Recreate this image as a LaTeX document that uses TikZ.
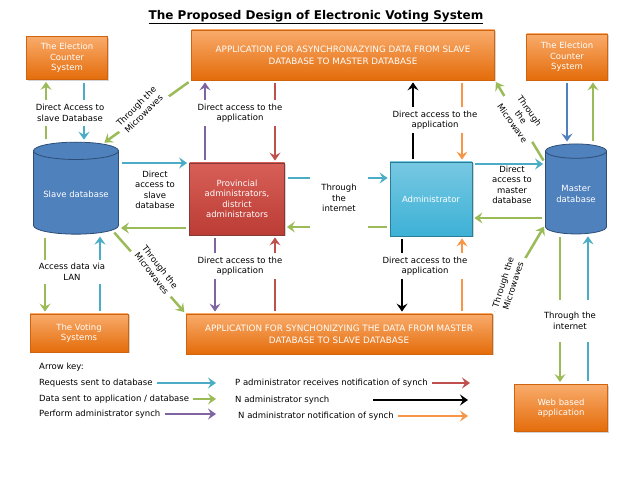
\documentclass[tikz,border=0pt]{standalone}
\usepackage{fontspec}
\setmainfont{DejaVu Sans}
\usetikzlibrary{arrows.meta,positioning,shapes.geometric,shadows}
\definecolor{BoxOrange}{HTML}{F79646}
\definecolor{BoxOrangeDark}{HTML}{E46C0A}
\definecolor{BoxBorder}{HTML}{D0640E}
\definecolor{DbBlue}{HTML}{4F81BD}
\definecolor{DbBorder}{HTML}{2C4D75}
\definecolor{ProvRed}{HTML}{D0433A}
\definecolor{AdmCyan}{HTML}{3DB1D6}
\definecolor{ArrCyan}{HTML}{4BACC6}
\definecolor{ArrGreen}{HTML}{9BBB59}
\definecolor{ArrPurple}{HTML}{8064A2}
\definecolor{ArrRed}{HTML}{C0504D}
\definecolor{ArrOrange}{HTML}{F79646}
\definecolor{ArrBlue}{HTML}{4F81BD}

\begin{document}
\begin{tikzpicture}[x=1pt,y=-1pt,
      every node/.style={font=\fontsize{8.5}{10.5}\selectfont,align=center},
      box/.style={draw=BoxBorder,thick,top color=BoxOrange!80!white,
        bottom color=BoxOrangeDark,text=white,inner sep=2pt,
        drop shadow={opacity=0.35,shadow xshift=1.5pt,shadow yshift=-1.5pt}},
      prov/.style={box,draw=ArrRed!70!black,top color=ProvRed!85!white,bottom color=ProvRed!90!black},
      adm/.style={box,draw=AdmCyan!70!black,top color=AdmCyan!70!white,bottom color=AdmCyan},
      db/.style={cylinder,shape border rotate=90,draw=DbBorder,thick,fill=DbBlue,
        text=white,inner sep=2pt},
      lbl/.style={fill=white,inner sep=4pt},
      key/.style={anchor=west,inner sep=1pt},
      arr/.style={-{Stealth[length=8pt,width=11pt,inset=3pt]},line width=2.5pt,
        shorten <=3pt,shorten >=2pt}]
      \useasboundingbox (0,0) rectangle (638,478);
      \node[font=\fontsize{12}{14}\selectfont\bfseries] (title) at (316,17)
        {\underline{The Proposed Design of Electronic Voting System}};
      % boxes
      \node[box,minimum width=81pt,minimum height=43pt] (lcount) at (67,58) {The Election\\Counter\\System};
      \node[box,minimum width=303pt,minimum height=50pt,font=\fontsize{8.8}{12}\selectfont] (topapp) at (343,55)
        {APPLICATION FOR ASYNCHRONAZYING DATA FROM SLAVE\\DATABASE TO MASTER DATABASE};
      \node[box,minimum width=81pt,minimum height=46pt] (rcount) at (567,57) {The Election\\Counter\\System};
      \node[db,minimum width=85pt,minimum height=92pt,aspect=0.25] (slave) at (76,194) {Slave database};
      \node[prov,minimum width=95pt,minimum height=72pt] (prov) at (237,199)
        {Provincial\\administrators,\\district\\administrators};
      \node[adm,minimum width=82pt,minimum height=74pt] (admin) at (431,199) {Administrator};
      \node[db,minimum width=61pt,minimum height=90pt,aspect=0.33] (master) at (576,194) {Master\\database};
      \node[box,minimum width=98pt,minimum height=38pt] (voting) at (79,333) {The Voting\\Systems};
      \node[box,minimum width=306pt,minimum height=40pt,font=\fontsize{8.8}{12}\selectfont] (botapp) at (339,334)
        {APPLICATION FOR SYNCHONIZYING THE DATA FROM MASTER\\DATABASE TO SLAVE DATABASE};
      \node[box,minimum width=93pt,minimum height=47pt] (web) at (561,408) {Web based\\application};
      % connectors
      \draw[arr,ArrGreen] (slave.north -| 46,0) -- (lcount.south -| 46,0);
      \draw[arr,ArrCyan] (lcount.south -| 84,0) -- (slave.north -| 84,0);
      \draw[arr,ArrGreen] (topapp.south west) -- (slave.62);
      \draw[arr,ArrPurple] (prov.north -| 205,0) -- (topapp.south -| 205,0);
      \draw[arr,ArrRed] (topapp.south -| 275,0) -- (prov.north -| 275,0);
      \draw[arr,black] (admin.north -| 413,0) -- (topapp.south -| 413,0);
      \draw[arr,ArrOrange] (topapp.south -| 462,0) -- (admin.north -| 462,0);
      \draw[arr,ArrGreen] (master.north west) -- (topapp.south east);
      \draw[arr,ArrBlue] (rcount.south -| 567,0) -- (master.north -| 567,0);
      \draw[arr,ArrGreen] (master.north -| 593,0) -- (rcount.south -| 593,0);
      \draw[arr,ArrCyan] (slave.east |- 0,163) -- (prov.west |- 0,163);
      \draw[arr,ArrGreen] (prov.west |- 0,228) -- (slave.east |- 0,228);
      \draw[arr,ArrCyan] (prov.east |- 0,178) -- (admin.west |- 0,178);
      \draw[arr,ArrGreen] (admin.west |- 0,227) -- (prov.east |- 0,227);
      \draw[arr,ArrCyan] (admin.east |- 0,164) -- (master.west |- 0,164);
      \draw[arr,ArrGreen] (master.west |- 0,218) -- (admin.east |- 0,218);
      \draw[arr,ArrPurple] (prov.south -| 215,0) -- (botapp.north -| 215,0);
      \draw[arr,ArrRed] (botapp.north -| 275,0) -- (prov.south -| 275,0);
      \draw[arr,black] (admin.south -| 402,0) -- (botapp.north -| 402,0);
      \draw[arr,ArrOrange] (botapp.north -| 462,0) -- (admin.south -| 462,0);
      \draw[arr,ArrGreen] (slave.south east) -- (botapp.north west);
      \draw[arr,ArrGreen] (botapp.north east) -- (master.south west);
      \draw[arr,ArrGreen] (slave.south -| 45,0) -- (voting.north -| 45,0);
      \draw[arr,ArrCyan] (voting.north -| 100,0) -- (slave.south -| 100,0);
      \draw[arr,ArrGreen] (master.south -| 560,0) -- (web.north -| 560,0);
      \draw[arr,ArrCyan] (web.north -| 588,0) -- (master.south -| 588,0);
      % labels
      \node[lbl] (lblcount) at (70,113) {Direct Access to\\slave Database};
      \node[lbl,rotate=45] (lblmicroa) at (140,110) {Through the\\Microwaves};
      \node[lbl] (lblappa) at (240,113) {Direct access to the\\application};
      \node[lbl] (lblappb) at (435,120) {Direct access to the\\application};
      \node[lbl,rotate=-55] (lblmicrob) at (521,117) {Through\\the\\Microwave};
      \node (lblslave) at (155,190) {Direct\\access to\\slave\\database};
      \node[lbl,minimum width=58pt,minimum height=62pt] (lblnet) at (339,198) {Through\\the\\internet};
      \node (lblmaster) at (512,185) {Direct\\access to\\master\\database};
      \node[lbl] (lblappc) at (240,266) {Direct access to the\\application};
      \node[lbl] (lblappd) at (425,266) {Direct access to the\\application};
      \node[lbl,rotate=-52] (lblmicroc) at (156,270) {Through the\\Microwaves};
      \node[lbl,rotate=72] (lblmicrod) at (508,284) {Through the\\Microwaves};
      \node[lbl] (lbllan) at (72,272) {Access data via\\LAN};
      \node[lbl,inner ysep=12pt] (lblweb) at (570,321) {Through the\\internet};
      % arrow key
      \node[key] (keyhead) at (38,367) {Arrow key:};
      \node[key] (keyreq) at (38,383) {Requests sent to database};
      \node[key] (keydata) at (38,399) {Data sent to application / database};
      \node[key] (keysynch) at (38,414) {Perform administrator synch};
      \node[key] (keyprec) at (234,383) {P administrator receives notification of synch};
      \node[key] (keynsyn) at (234,400) {N administrator synch};
      \node[key] (keynnot) at (237,416) {N administrator notification of synch};
      \coordinate (endreq) at (218,383);
      \coordinate (enddata) at (218,399);
      \coordinate (endsynch) at (218,414);
      \coordinate (endprec) at (472,383);
      \coordinate (startnsyn) at (370,400);
      \coordinate (endnsyn) at (470,400);
      \coordinate (endnnot) at (470,416);
      \draw[arr,ArrCyan] (keyreq.east) -- (endreq);
      \draw[arr,ArrGreen] (keydata.east) -- (enddata);
      \draw[arr,ArrPurple] (keysynch.east) -- (endsynch);
      \draw[arr,ArrRed] (keyprec.east) -- (endprec);
      \draw[arr,black] (startnsyn) -- (endnsyn);
      \draw[arr,ArrOrange] (keynnot.east) -- (endnnot);
    \end{tikzpicture}
\end{document}
